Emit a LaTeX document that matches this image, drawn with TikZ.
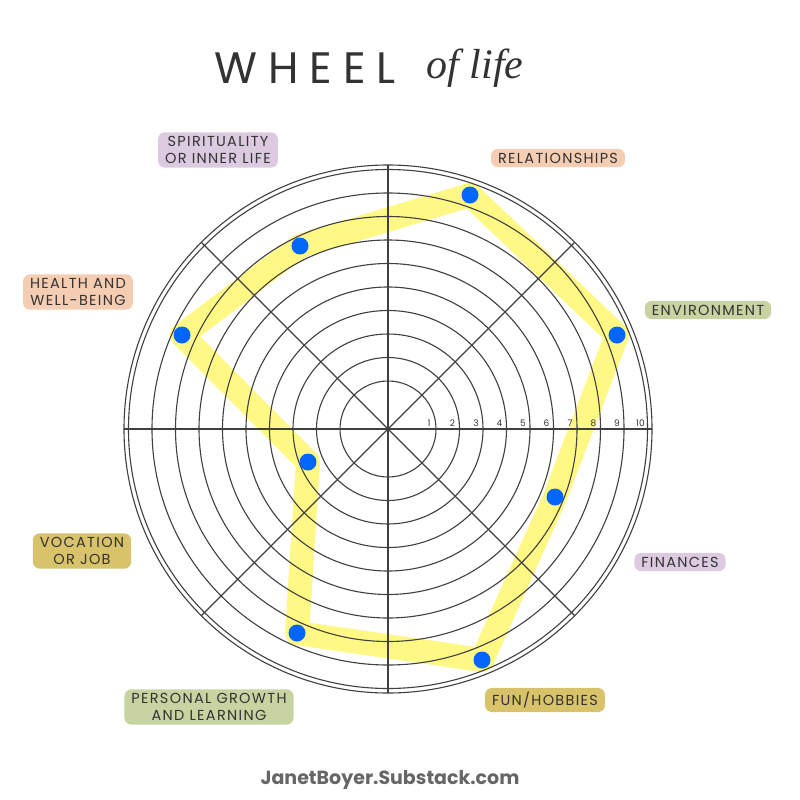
\documentclass[tikz,border=0pt]{standalone}
\usepackage{fontspec}
\setmainfont{Poppins}
\newfontfamily\scr{Liberation Serif}
\definecolor{pur}{HTML}{DCCBE0}
\definecolor{pea}{HTML}{F5CDB3}
\definecolor{grn}{HTML}{C8D3A2}
\definecolor{gld}{HTML}{D8C26A}
\begin{document}
\begin{tikzpicture}[x=1pt,y=-1pt,
 lab/.style={rounded corners=7pt,inner xsep=7pt,inner ysep=4pt,align=center,font=\fontsize{14.5}{17}\selectfont\addfontfeature{LetterSpace=9}, text=black!80},
 num/.style={font=\fontsize{9}{9}\selectfont,text=black!80,anchor=south,inner sep=2pt},
 dot/.style={circle,fill=blue!60!cyan,inner sep=0pt,minimum size=17pt}]
\useasboundingbox (0,0) rectangle (800,800);
\fill[white] (0,0) rectangle (800,800);
\coordinate (c) at (388,429);
% yellow band
\coordinate (p1) at (470,195);
\coordinate (p2) at (617,335);
\coordinate (p3) at (555,497);
\coordinate (p4) at (482,660);
\coordinate (p5) at (297,633);
\coordinate (p6) at (308,462);
\coordinate (p7) at (182,335);
\coordinate (p8) at (300,246);
\draw[yellow!60,opacity=0.8,line width=24pt,line join=round] (p1)--(p2)--(p3)--(p4)--(p5)--(p6)--(p7)--(p8)--cycle;
% grid
\foreach \k in {0,...,9}{\draw[black!75,line width=1.1pt] (c) circle ({48+23.5*\k});}
\draw[black!75,line width=1.1pt] (c) circle (264);
\foreach \a in {0,45,...,315}{\draw[black!75,line width=1.1pt] (c) -- ++(\a:264);}
\foreach \k in {1,...,10}{\node[num] at ({388+48+23.5*(\k-1)-7},429) {\k};}
% dots
\foreach \p in {p1,p2,p3,p4,p5,p6,p7,p8}{\node[dot] at (\p) {};}
% title
\node (t1) at (305,68) {\fontsize{44}{44}\selectfont\addfontfeature{LetterSpace=25}\color{black!80}WHEEL};
\node (t2) at (475,68) {\scr\itshape\fontsize{42}{42}\selectfont\color{black!80}of life};
% labels
\node[lab,fill=pur] (s) at (218,150) {SPIRITUALITY\\OR INNER LIFE};
\node[lab,fill=pea] (r) at (558,158) {RELATIONSHIPS};
\node[lab,fill=grn] (e) at (708,310) {ENVIRONMENT};
\node[lab,fill=pea] (h) at (78,292) {HEALTH AND\\WELL-BEING};
\node[lab,fill=gld] (v) at (82,551) {VOCATION\\OR JOB};
\node[lab,fill=pur] (f) at (680,562) {FINANCES};
\node[lab,fill=grn] (g) at (209,707) {PERSONAL GROWTH\\AND LEARNING};
\node[lab,fill=gld] (fh) at (545,700) {FUN/HOBBIES};
\node[font=\fontsize{19}{19}\selectfont\bfseries,text=black!60] (u) at (390,780) {JanetBoyer.Substack.com};
\end{tikzpicture}
\end{document}
